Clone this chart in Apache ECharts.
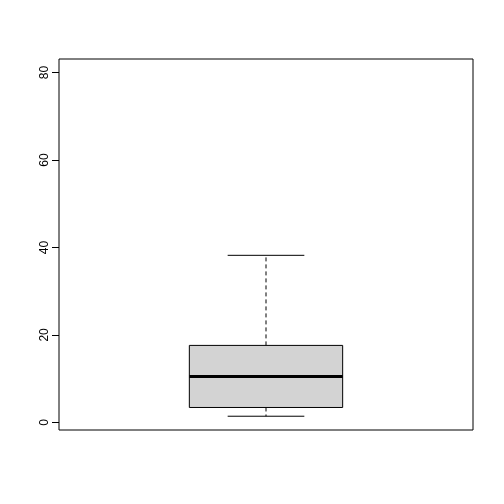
<!DOCTYPE html>
<html><head><meta charset="utf-8">
<script src="https://cdn.jsdelivr.net/npm/echarts@6/dist/echarts.min.js"></script>
<style>html,body{margin:0;padding:0;background:#fff}#c{width:504px;height:504px}</style>
</head><body><div id="c"></div>
<script>
const stats = [1.4, 3.4, 10.5, 17.6, 38.2]; // low, q1, median, q3, high
const outliers = [58.1, 80];
const yTicks = [0, 20, 40, 60, 80];

const chart = echarts.init(document.getElementById('c'));
chart.setOption({
  animation: false,
  grid: {left: 59, top: 59, width: 414, height: 371, show: true, borderColor: '#000', borderWidth: 1, backgroundColor: 'transparent'},
  xAxis: {type: 'value', min: 0.46, max: 1.54, show: false},
  yAxis: {type: 'value', min: -1.75, max: 83.1, splitLine: {show: false},
    axisLine: {show: false},
    axisTick: {show: true, length: 7, customValues: yTicks, lineStyle: {color: '#000'}},
    axisLabel: {customValues: yTicks, rotate: 90, color: '#000', fontSize: 12, fontFamily: 'Liberation Sans', margin: 14, align: 'center', verticalAlign: 'middle'}
  },
  series: [{
    type: 'custom',
    data: [[1].concat(stats)],
    renderItem: function (params, api) {
      const x = api.value(0);
      const p = i => api.coord([x, api.value(i)]);
      const L = api.coord([x - 0.2, 0])[0], R = api.coord([x + 0.2, 0])[0];
      const cl = api.coord([x - 0.1, 0])[0], cr = api.coord([x + 0.1, 0])[0];
      const cx = p(1)[0];
      const lo = p(1)[1], q1 = p(2)[1], md = p(3)[1], q3 = p(4)[1], hi = p(5)[1];
      const ls = {stroke: '#000', lineWidth: 1};
      return {type: 'group', children: [
        {type: 'line', shape: {x1: cx, y1: q3, x2: cx, y2: hi}, style: Object.assign({lineDash: [4, 3]}, ls)},
        {type: 'line', shape: {x1: cx, y1: q1, x2: cx, y2: lo}, style: Object.assign({lineDash: [4, 3]}, ls)},
        {type: 'line', shape: {x1: cl, y1: hi, x2: cr, y2: hi}, style: ls},
        {type: 'line', shape: {x1: cl, y1: lo, x2: cr, y2: lo}, style: ls},
        {type: 'rect', shape: {x: L, y: q3, width: R - L, height: q1 - q3}, style: {fill: '#d3d3d3', stroke: '#000', lineWidth: 1}},
        {type: 'line', shape: {x1: L, y1: md, x2: R, y2: md}, style: {stroke: '#000', lineWidth: 3}}
      ]};
    }
  }, {
    type: 'scatter',
    data: outliers.map(v => [1, v]),
    symbol: 'emptyCircle', symbolSize: 7,
    itemStyle: {color: '#fff', borderColor: '#000', borderWidth: 1}
  }]
});
</script></body></html>
